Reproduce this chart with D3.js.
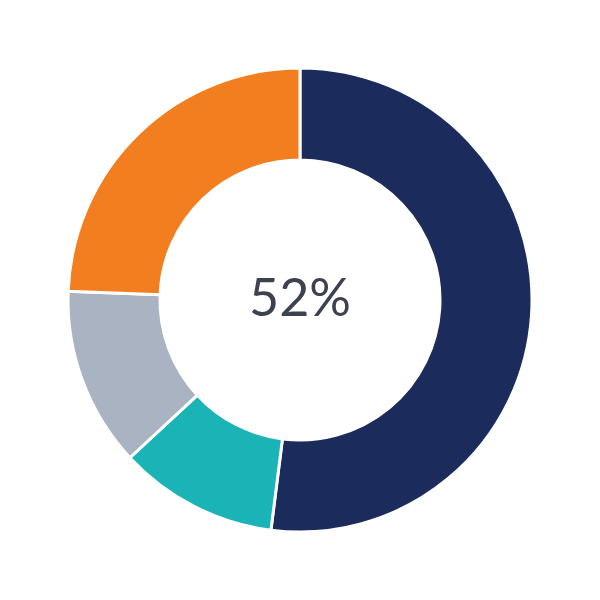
<!DOCTYPE html>
<html>
<head>
<meta charset="utf-8">
<script src="https://cdn.jsdelivr.net/npm/d3@7"></script>
<style>
  body { margin: 0; background: #fff; }
</style>
</head>
<body>
<div id="chart"></div>
<script>
// slice data, clockwise from 12 o'clock
var labels = ["Navy", "Teal", "Gray", "Orange"];
var values = [52, 11.1, 12.5, 24.4];
var colors = ["#1b2b5b", "#1ab4b7", "#a9b3c1", "#f37e20"];
var centerLabel = "52%";

var width = 600, height = 600;
var outerR = 232, innerR = 140;

var svg = d3.select("#chart").append("svg")
    .attr("width", width)
    .attr("height", height);

var g = svg.append("g")
    .attr("transform", "translate(" + width / 2 + "," + height / 2 + ")");

var pie = d3.pie().sort(null).value(d => d);
var arc = d3.arc().innerRadius(innerR).outerRadius(outerR);

g.selectAll("path")
    .data(pie(values))
    .enter().append("path")
    .attr("d", arc)
    .attr("fill", (d, i) => colors[i])
    .attr("stroke", "#fff")
    .attr("stroke-width", 3);

g.append("text")
    .attr("text-anchor", "middle")
    .attr("y", 16)
    .attr("font-family", "Lato, 'Open Sans', sans-serif")
    .attr("font-weight", 400)
    .attr("font-size", 52)
    .attr("fill", "#3c4250")
    .text(centerLabel);
</script>
</body>
</html>
